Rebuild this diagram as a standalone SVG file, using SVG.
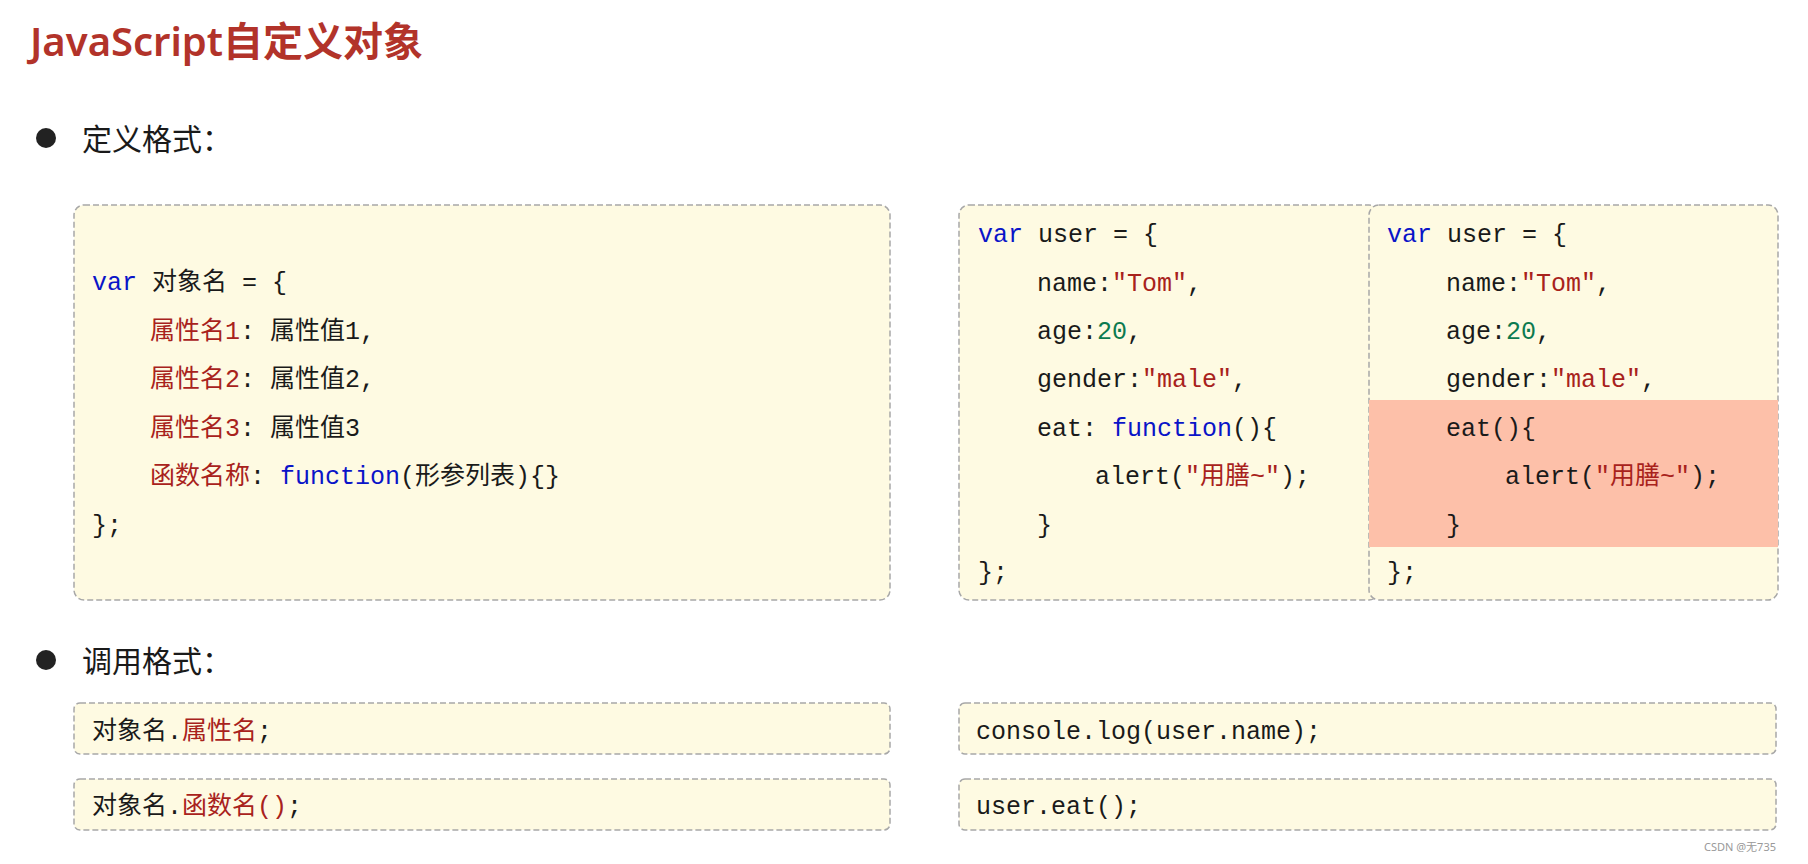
<svg xmlns="http://www.w3.org/2000/svg" width="1808" height="864" viewBox="0 0 1808 864">
<style>
.box{fill:#fefae2;stroke:#a8a8a8;stroke-width:1.5;stroke-dasharray:6 3}
.c{font-family:"Liberation Mono","Noto Sans CJK SC",monospace;font-size:25px;fill:#1a1a1a}
.k{fill:#0a14c8}.r{fill:#a8221c}.g{fill:#0c7a50}
.h{font-family:"Noto Sans CJK SC","Noto Sans",sans-serif;font-size:30px;fill:#1a1a1a}
</style>
<rect width="1808" height="864" fill="#fff"/>
<g id="title"><text x="30" y="56" font-family="'Noto Sans','Noto Sans CJK SC',sans-serif" font-size="40" font-weight="600" fill="#b2332a">JavaScript自定义对象</text></g>
<g id="bullet1"><circle cx="46" cy="138" r="10" fill="#222"/><text class="h" x="82" y="150">定义格式：</text></g>
<g id="box-def"><rect class="box" x="74" y="205" width="816" height="395" rx="10"/>
<text class="c" x="92" y="290"><tspan class="k">var</tspan> 对象名 = {</text>
<text class="c" x="150" y="339"><tspan class="r">属性名1</tspan>: 属性值1,</text>
<text class="c" x="150" y="387"><tspan class="r">属性名2</tspan>: 属性值2,</text>
<text class="c" x="150" y="436"><tspan class="r">属性名3</tspan>: 属性值3</text>
<text class="c" x="150" y="484"><tspan class="r">函数名称</tspan>: <tspan class="k">function</tspan>(形参列表){}</text>
<text class="c" x="92" y="533">};</text></g>
<g id="box-ex1"><rect class="box" x="959" y="205" width="420" height="395" rx="10"/>
<text class="c" x="978" y="242"><tspan class="k">var</tspan> user = {</text>
<text class="c" x="1037" y="291">name:<tspan class="r">"Tom"</tspan>,</text>
<text class="c" x="1037" y="339">age:<tspan class="g">20</tspan>,</text>
<text class="c" x="1037" y="387">gender:<tspan class="r">"male"</tspan>,</text>
<text class="c" x="1037" y="436">eat: <tspan class="k">function</tspan>(){</text>
<text class="c" x="1095" y="484">alert(<tspan class="r">"用膳~"</tspan>);</text>
<text class="c" x="1037" y="533">}</text>
<text class="c" x="978" y="580">};</text></g>
<g id="box-ex2"><rect class="box" x="1369" y="205" width="409" height="395" rx="10"/>
<rect x="1369" y="400" width="409" height="147" fill="#fdc0a9"/>
<text class="c" x="1387" y="242"><tspan class="k">var</tspan> user = {</text>
<text class="c" x="1446" y="291">name:<tspan class="r">"Tom"</tspan>,</text>
<text class="c" x="1446" y="339">age:<tspan class="g">20</tspan>,</text>
<text class="c" x="1446" y="387">gender:<tspan class="r">"male"</tspan>,</text>
<text class="c" x="1446" y="436">eat(){</text>
<text class="c" x="1505" y="484">alert(<tspan class="r">"用膳~"</tspan>);</text>
<text class="c" x="1446" y="533">}</text>
<text class="c" x="1387" y="580">};</text></g>
<g id="bullet2"><circle cx="46" cy="660" r="10" fill="#222"/><text class="h" x="82" y="672">调用格式：</text></g>
<g id="call1"><rect class="box" x="74" y="703" width="816" height="51" rx="6"/><text class="c" x="92" y="739">对象名.<tspan class="r">属性名</tspan>;</text></g>
<g id="call2"><rect class="box" x="74" y="779" width="816" height="51" rx="6"/><text class="c" x="92" y="814">对象名.<tspan class="r">函数名()</tspan>;</text></g>
<g id="call3"><rect class="box" x="959" y="703" width="817" height="51" rx="6"/><text class="c" x="976" y="739">console.log(user.name);</text></g>
<g id="call4"><rect class="box" x="959" y="779" width="817" height="51" rx="6"/><text class="c" x="976" y="814">user.eat();</text></g>
<g id="connectors"></g>
<text x="1776" y="851" text-anchor="end" font-family="'Noto Sans','Noto Sans CJK SC',sans-serif" font-size="11" fill="#999">CSDN @无735</text>
</svg>
